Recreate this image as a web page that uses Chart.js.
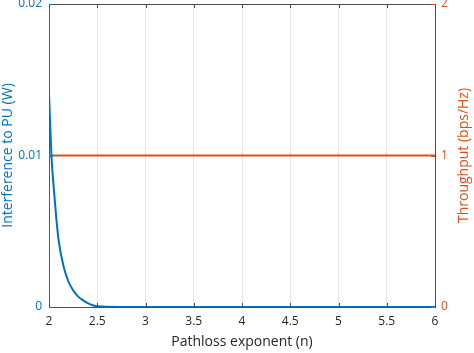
<!DOCTYPE html>
<html><head><meta charset="utf-8">
<script src="https://cdn.jsdelivr.net/npm/chart.js@4"></script>
<style>html,body{margin:0;padding:0;background:#fff}#wrap{width:474px;height:353px}</style>
</head><body><div id="wrap"><canvas id="c" width="474" height="353"></canvas></div>
<script>
const pathlossExponent = [2, 2.025, 2.05, 2.075, 2.1, 2.15, 2.2, 2.25, 2.3, 2.35, 2.4, 2.45, 2.5, 2.6, 2.8, 3, 3.5, 4, 4.5, 5, 5.5, 6];
const interference = [0.0141, 0.0100, 0.0078, 0.0059, 0.0044, 0.0027, 0.0017, 0.0011, 0.0007, 0.00045, 0.00025, 0.00012, 0.00005, 0.00001, 0, 0, 0, 0, 0, 0, 0, 0];
const throughputX = [2, 6];
const throughput = [1, 1];
const xTicks = [2, 2.5, 3, 3.5, 4, 4.5, 5, 5.5, 6];
const leftTicks = [0, 0.01, 0.02];
const rightTicks = [0, 1, 2];
const rightTitle = 'Throughput (bps/Hz)';

const BLUE = '#0072BD', ORANGE = '#D95319';
const FONT = '"Open Sans", "Noto Sans", sans-serif';

const inwardTicks = {
  id: 'inwardTicks',
  afterDraw(chart) {
    const {ctx, chartArea: a, scales} = chart;
    ctx.save();
    ctx.lineWidth = 1;
    ctx.strokeStyle = '#4d4d4d';
    ctx.beginPath();
    ctx.moveTo(a.left, a.top + 0.5); ctx.lineTo(a.right, a.top + 0.5);
    ctx.stroke();
    xTicks.forEach(v => {
      const x = Math.round(scales.x.getPixelForValue(v)) + 0.5;
      ctx.beginPath();
      ctx.moveTo(x, a.bottom); ctx.lineTo(x, a.bottom - 4);
      ctx.moveTo(x, a.top); ctx.lineTo(x, a.top + 4);
      ctx.stroke();
    });
    ctx.strokeStyle = BLUE;
    leftTicks.forEach(v => {
      const y = Math.round(scales.yL.getPixelForValue(v)) + 0.5;
      ctx.beginPath(); ctx.moveTo(a.left, y); ctx.lineTo(a.left + 4, y); ctx.stroke();
    });
    ctx.strokeStyle = ORANGE;
    rightTicks.forEach(v => {
      const y = Math.round(scales.yR.getPixelForValue(v)) + 0.5;
      ctx.beginPath(); ctx.moveTo(a.right, y); ctx.lineTo(a.right - 4, y); ctx.stroke();
    });
    // right axis title, reading bottom-to-top like MATLAB
    ctx.translate(464, (a.top + a.bottom) / 2);
    ctx.rotate(-Math.PI / 2);
    ctx.fillStyle = ORANGE;
    ctx.font = '14px ' + FONT;
    ctx.textAlign = 'center';
    ctx.textBaseline = 'middle';
    ctx.fillText(rightTitle, 0, 0);
    ctx.restore();
  }
};

new Chart(document.getElementById('c'), {
  type: 'line',
  data: {
    datasets: [
      {
        label: 'Interference',
        data: pathlossExponent.map((x, i) => ({x, y: interference[i]})),
        yAxisID: 'yL',
        borderColor: BLUE,
        borderWidth: 2,
        pointRadius: 0,
        cubicInterpolationMode: 'monotone',
        fill: false
      },
      {
        label: 'Throughput',
        data: throughputX.map((x, i) => ({x, y: throughput[i]})),
        yAxisID: 'yR',
        borderColor: ORANGE,
        borderWidth: 2,
        pointRadius: 0,
        fill: false
      }
    ]
  },
  options: {
    responsive: false,
    animation: false,
    devicePixelRatio: 1,
    layout: {padding: {top: 4, left: 0, right: 0, bottom: 0}},
    plugins: {legend: {display: false}, tooltip: {enabled: false}},
    scales: {
      x: {
        type: 'linear', min: 2, max: 6,
        afterBuildTicks: s => { s.ticks = xTicks.map(v => ({value: v})); },
        afterFit: s => { s.height = 46; s.paddingLeft = 0; s.paddingRight = 0; },
        grid: {color: '#e4e4e4', drawTicks: false, lineWidth: 1},
        border: {color: '#4d4d4d', width: 1},
        ticks: {color: '#262626', padding: 7, font: {family: FONT, size: 12}, maxRotation: 0,
                callback: v => String(v)},
        title: {display: true, text: 'Pathloss exponent (n)', color: '#262626',
                font: {family: FONT, size: 14}, padding: {top: 4, bottom: 3}}
      },
      yL: {
        type: 'linear', position: 'left', min: 0, max: 0.02,
        afterBuildTicks: s => { s.ticks = leftTicks.map(v => ({value: v})); },
        afterFit: s => { s.width = 49; s.paddingTop = 0; s.paddingBottom = 0; },
        grid: {display: false, drawTicks: false},
        border: {color: BLUE, width: 1},
        ticks: {color: BLUE, padding: 7, font: {family: FONT, size: 12}, callback: v => String(v)},
        title: {display: true, text: 'Interference to PU (W)', color: BLUE,
                font: {family: FONT, size: 14}, padding: {top: 0, bottom: 0}}
      },
      yR: {
        type: 'linear', position: 'right', min: 0, max: 2,
        afterBuildTicks: s => { s.ticks = rightTicks.map(v => ({value: v})); },
        afterFit: s => { s.width = 39; s.paddingTop = 0; s.paddingBottom = 0; },
        grid: {display: false, drawTicks: false},
        border: {color: '#4d4d4d', width: 1},
        ticks: {color: ORANGE, padding: 6, font: {family: FONT, size: 12}, callback: v => String(v)},
        title: {display: false}
      }
    }
  },
  plugins: [inwardTicks]
});
</script></body></html>
